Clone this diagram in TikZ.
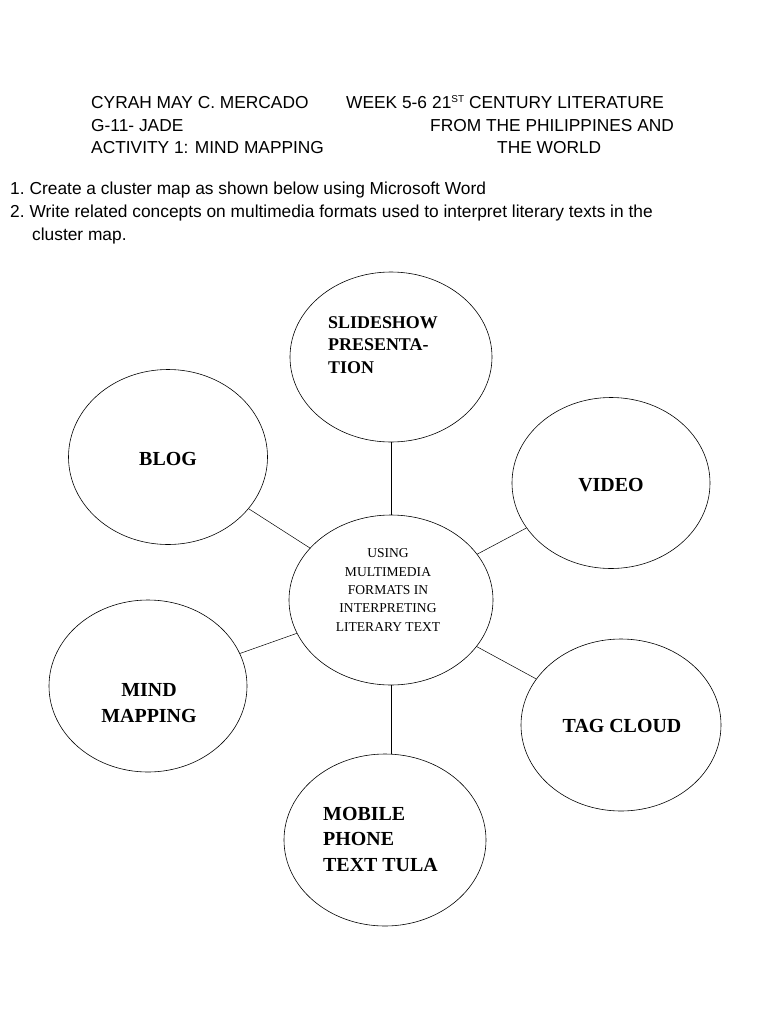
\documentclass[tikz,border=0pt]{standalone}
\usepackage{fontspec}
\setmainfont{Liberation Serif}
\newfontfamily\hsans{Liberation Sans}
\usetikzlibrary{shapes.geometric}
\begin{document}
\begin{tikzpicture}[x=1bp,y=-1bp,
  hd/.style={anchor=base west,inner sep=0,font=\hsans\fontsize{17.4}{20}\selectfont},
  lab/.style={inner sep=0,font=\bfseries\fontsize{20}{25.5}\selectfont},
  con/.style={draw,line width=0.5pt}]
\useasboundingbox (0,0) rectangle (768,1024);
\fill[white] (0,0) rectangle (768,1024);
% header
\node[hd] (h1) at (91,108) {CYRAH MAY C. MERCADO};
\node[hd] (h2) at (346,108) {WEEK 5-6};
\node[hd] (h3) at (432,108) {21\raisebox{0.6ex}{\fontsize{10}{10}\selectfont ST} CENTURY LITERATURE};
\node[hd] (h4) at (91,131) {G-11- JADE};
\node[hd] (h5) at (430,131) {FROM THE PHILIPPINES AND};
\node[hd] (h6) at (91,153) {ACTIVITY 1: MIND MAPPING};
\node[hd] (h7) at (497,153) {THE WORLD};
\node[hd] (l1) at (10,194) {1.\hspace{5bp}Create a cluster map as shown below using Microsoft Word};
\node[hd] (l2) at (10,217) {2.\hspace{5bp}Write related concepts on multimedia formats used to interpret literary texts in the};
\node[hd] (l3) at (32,240) {cluster map.};
% ellipses
\begin{scope}[line width=0.6pt]
\node[draw,ellipse,minimum width=204bp,minimum height=170bp,inner sep=0] (c) at (391,600) {};
\node[draw,ellipse,minimum width=202bp,minimum height=170bp] (t) at (391,357) {};
\node[draw,ellipse,minimum width=199bp,minimum height=175bp] (b) at (168,457) {};
\node[draw,ellipse,minimum width=198bp,minimum height=171bp] (v) at (611,483) {};
\node[draw,ellipse,minimum width=198bp,minimum height=172bp] (m) at (148,686) {};
\node[draw,ellipse,minimum width=200bp,minimum height=172bp] (g) at (621,725) {};
\node[draw,ellipse,minimum width=202bp,minimum height=172bp] (p) at (385,840) {};
\end{scope}
% connectors
\draw[con] (t.south) -- (c.north);
\draw[con] (b) -- (c);
\draw[con] (v) -- (c);
\draw[con] (m) -- (c);
\draw[con] (g) -- (c);
\draw[con] (c.south) -- (c.south |- p.north);
% labels
\node[lab,align=left,anchor=north west,font=\bfseries\fontsize{18}{23}\selectfont] (tl) at (328,316) {SLIDESHOW\\PRESENTA-\\TION};
\node[lab] (bl) at (168,459) {BLOG};
\node[lab] (vl) at (611,485) {VIDEO};
\node[lab,align=center] (ml) at (149,703) {MIND\\MAPPING};
\node[lab] (gl) at (622,726) {TAG CLOUD};
\node[lab,align=left,anchor=north west] (pl) at (323,807) {MOBILE\\PHONE\\TEXT TULA};
\node[inner sep=0,align=center,font=\fontsize{13.6}{18.5}\selectfont] (cl) at (388,590) {USING\\MULTIMEDIA\\FORMATS IN\\INTERPRETING\\LITERARY TEXT};
\end{tikzpicture}
\end{document}
